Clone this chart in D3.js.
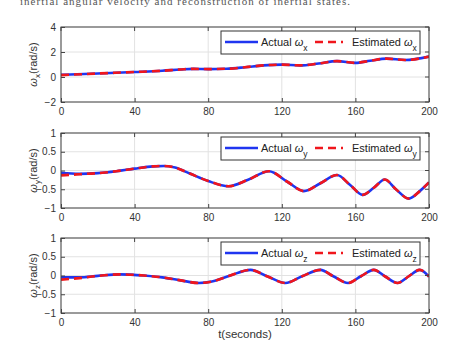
<!DOCTYPE html>
<html>
<head>
<meta charset="utf-8">
<script src="https://cdn.jsdelivr.net/npm/d3@7/dist/d3.min.js"></script>
<style>
    body { margin: 0; background: #fff; }
    svg { display: block; font-family: "Liberation Sans", Arial, sans-serif; }
</style>
</head>
<body>
<div id="chart"></div>
<script>
// time samples (seconds) for each series
const timeX = [0, 20, 40, 55, 65, 72, 80, 90, 100, 110, 120, 130, 140, 150, 160, 168, 177, 187, 200];
const actualX = [0.18, 0.28, 0.40, 0.50, 0.60, 0.65, 0.63, 0.66, 0.78, 0.93, 0.99, 0.93, 1.08, 1.27, 1.13, 1.30, 1.47, 1.36, 1.63];
const estimatedX = [0.15, 0.28, 0.40, 0.50, 0.60, 0.65, 0.63, 0.66, 0.78, 0.93, 0.99, 0.93, 1.08, 1.27, 1.13, 1.30, 1.47, 1.36, 1.63];

const timeY = [0, 10, 20, 30, 40, 50, 56, 62, 70, 80, 91, 102, 113, 123, 132, 141, 150, 157, 164, 170, 176, 182, 189, 195, 200];
const actualY = [-0.06, -0.09, -0.07, -0.02, 0.05, 0.11, 0.12, 0.08, -0.08, -0.28, -0.42, -0.24, -0.02, -0.30, -0.55, -0.34, -0.12, -0.38, -0.65, -0.46, -0.24, -0.50, -0.75, -0.55, -0.32];
const estimatedY = [-0.13, -0.10, -0.07, -0.02, 0.05, 0.11, 0.12, 0.08, -0.08, -0.28, -0.42, -0.24, -0.02, -0.30, -0.55, -0.34, -0.12, -0.38, -0.65, -0.46, -0.24, -0.50, -0.75, -0.55, -0.32];

const timeZ = [0, 10, 20, 32, 45, 55, 65, 75, 82, 92, 103, 112, 122, 131, 141, 148, 156, 163, 170, 176, 183, 189, 195, 200];
const actualZ = [-0.05, -0.05, -0.01, 0.03, 0.00, -0.05, -0.13, -0.20, -0.16, 0.00, 0.15, -0.02, -0.20, -0.02, 0.15, -0.02, -0.20, -0.02, 0.15, -0.02, -0.20, -0.02, 0.15, -0.03];
const estimatedZ = [-0.11, -0.07, -0.01, 0.03, 0.00, -0.05, -0.13, -0.20, -0.16, 0.00, 0.15, -0.02, -0.20, -0.02, 0.15, -0.02, -0.20, -0.02, 0.15, -0.02, -0.20, -0.02, 0.15, -0.03];

const xTicks = [0, 40, 80, 120, 160, 200];
const axisNames = ['x', 'y', 'z'];
const yDomains = [[-2, 4], [-1, 1], [-1, 1]];
const yTickSets = [[-2, 0, 2, 4], [-1, -0.5, 0, 0.5, 1], [-1, -0.5, 0, 0.5, 1]];

const panels = [
    { name: axisNames[0], t: timeX, actual: actualX, est: estimatedX, domain: yDomains[0], ticks: yTickSets[0] },
    { name: axisNames[1], t: timeY, actual: actualY, est: estimatedY, domain: yDomains[1], ticks: yTickSets[1] },
    { name: axisNames[2], t: timeZ, actual: actualZ, est: estimatedZ, domain: yDomains[2], ticks: yTickSets[2] }
];

const width = 474, height = 351;
const left = 61, right = 429, panelH = 75;
const panelTops = [27, 133, 238];
const blue = "#1f35f0", red = "#f0161c";

const svg = d3.select("#chart").append("svg")
    .attr("width", width).attr("height", height);

// clipped caption from the page above the figure
svg.append("text")
    .attr("x", 20).attr("y", 5)
    .attr("textLength", 330)
    .attr("font-family", "'Liberation Serif', 'DejaVu Serif', serif")
    .attr("font-size", 11)
    .attr("fill", "#555")
    .text("inertial angular velocity and reconstruction of inertial states.");

const x = d3.scaleLinear().domain([0, 200]).range([left, right]);

const fmt = v => String(v).replace("-", "\u2212");

panels.forEach((p, i) => {
    const top = panelTops[i];
    const y = d3.scaleLinear().domain(p.domain).range([top + panelH, top]);
    const g = svg.append("g");

    const clipId = "clip" + i;
    svg.append("clipPath").attr("id", clipId)
        .append("rect")
        .attr("x", left).attr("y", top)
        .attr("width", right - left).attr("height", panelH);

    // grid
    g.selectAll("line.gx").data(xTicks).enter().append("line")
        .attr("x1", d => x(d)).attr("x2", d => x(d))
        .attr("y1", top).attr("y2", top + panelH)
        .attr("stroke", "#e2e2e2").attr("stroke-width", 1);
    g.selectAll("line.gy").data(p.ticks).enter().append("line")
        .attr("x1", left).attr("x2", right)
        .attr("y1", d => y(d)).attr("y2", d => y(d))
        .attr("stroke", "#e2e2e2").attr("stroke-width", 1);

    // curves
    const line = d3.line()
        .x((d, k) => x(p.t[k]))
        .y(d => y(d))
        .curve(d3.curveMonotoneX);

    const curves = g.append("g").attr("clip-path", `url(#${clipId})`);
    curves.append("path")
        .attr("d", line(p.actual))
        .attr("fill", "none")
        .attr("stroke", blue)
        .attr("stroke-width", 2.6);
    curves.append("path")
        .attr("d", line(p.est))
        .attr("fill", "none")
        .attr("stroke", red)
        .attr("stroke-width", 2.6)
        .attr("stroke-dasharray", "8,5");

    // axes (MATLAB style, ticks inward)
    const xAxis = d3.axisBottom(x).tickValues(xTicks).tickSize(-4).tickPadding(6).tickFormat(fmt);
    const yAxis = d3.axisLeft(y).tickValues(p.ticks).tickSize(-4).tickPadding(5).tickFormat(fmt);

    const ax = g.append("g").attr("transform", `translate(0,${top + panelH})`).call(xAxis);
    const ay = g.append("g").attr("transform", `translate(${left},0)`).call(yAxis);
    [ax, ay].forEach(a => {
        a.select(".domain").remove();
        a.selectAll(".tick line").attr("stroke", "#444");
        a.selectAll("text").attr("font-size", 10).attr("fill", "#333")
            .attr("font-family", "'Liberation Sans', Arial, sans-serif");
    });

    // top / right tick marks
    g.selectAll("line.tt").data(xTicks).enter().append("line")
        .attr("x1", d => x(d)).attr("x2", d => x(d))
        .attr("y1", top).attr("y2", top + 4)
        .attr("stroke", "#444");
    g.selectAll("line.rt").data(p.ticks).enter().append("line")
        .attr("x1", right - 4).attr("x2", right)
        .attr("y1", d => y(d)).attr("y2", d => y(d))
        .attr("stroke", "#444");

    g.append("rect")
        .attr("x", left).attr("y", top)
        .attr("width", right - left).attr("height", panelH)
        .attr("fill", "none").attr("stroke", "#444").attr("stroke-width", 1);

    // y label
    const yl = g.append("text")
        .attr("transform", `translate(37,${top + panelH / 2}) rotate(-90)`)
        .attr("text-anchor", "middle")
        .attr("font-size", 11)
        .attr("fill", "#333");
    yl.append("tspan").attr("font-style", "italic").text("\u03c9");
    yl.append("tspan").attr("font-size", 8).attr("dy", 3).text(p.name);
    yl.append("tspan").attr("dy", -3).text("(rad/s)");

    // legend
    const lx = 221, ly = top + 4, lw = 199, lh = 23;
    const lg = g.append("g");
    lg.append("rect")
        .attr("x", lx).attr("y", ly).attr("width", lw).attr("height", lh)
        .attr("fill", "#fff").attr("stroke", "#333").attr("stroke-width", 1);
    const cy = ly + 11;
    lg.append("line")
        .attr("x1", lx + 4).attr("x2", lx + 37).attr("y1", cy).attr("y2", cy)
        .attr("stroke", blue).attr("stroke-width", 2.6);
    const t1 = lg.append("text").attr("x", lx + 40).attr("y", cy + 4)
        .attr("font-size", 11).attr("fill", "#222");
    t1.append("tspan").text("Actual ");
    t1.append("tspan").attr("font-style", "italic").text("\u03c9");
    t1.append("tspan").attr("font-size", 8.5).attr("dy", 5).text(p.name);
    lg.append("line")
        .attr("x1", lx + 94).attr("x2", lx + 122).attr("y1", cy).attr("y2", cy)
        .attr("stroke", red).attr("stroke-width", 2.6).attr("stroke-dasharray", "8,5");
    const t2 = lg.append("text").attr("x", lx + 131).attr("y", cy + 4)
        .attr("font-size", 11).attr("fill", "#222");
    t2.append("tspan").text("Estimated ");
    t2.append("tspan").attr("font-style", "italic").text("\u03c9");
    t2.append("tspan").attr("font-size", 8.5).attr("dy", 5).text(p.name);
});

svg.append("text")
    .attr("x", (left + right) / 2).attr("y", 338)
    .attr("text-anchor", "middle")
    .attr("font-size", 11.5)
    .attr("fill", "#333")
    .text("t(seconds)");
</script>
</body>
</html>
